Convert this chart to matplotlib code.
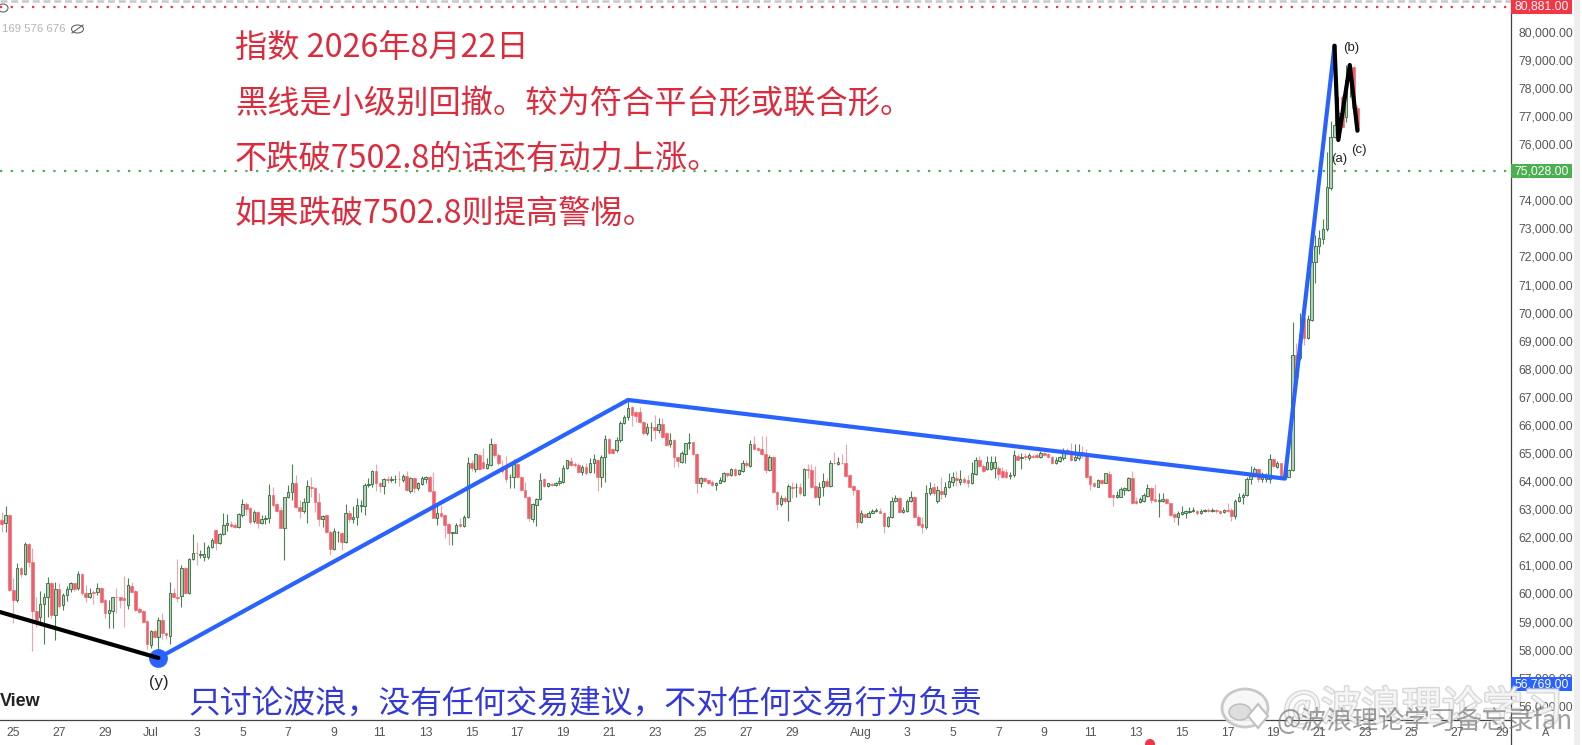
import numpy as np
import pandas as pd
import matplotlib
matplotlib.use("Agg")
import matplotlib.pyplot as plt
import matplotlib.dates as mdates
import matplotlib.patheffects as pe
from matplotlib.lines import Line2D
from matplotlib.patches import Ellipse, Rectangle, Polygon
from matplotlib.transforms import blended_transform_factory

plt.rcParams["font.family"] = ["Noto Sans CJK SC", "DejaVu Sans"]

W, H = 1582, 745

# 4h candles, first one on Jun 24 12:00
FIRST_BAR = "2026-06-24 12:00"

OPENS = [
    62620,62500,62800,60120,59770,60900,60710,61760,61130,59390,
    59150,59630,59890,60360,59230,60150,59590,59950,60150,60360,
    60180,60690,60000,59860,60060,60060,60180,59770,59290,59390,
    59890,59890,59830,59590,60270,60100,59440,59390,59030,58170,
    58680,58440,59060,58600,58490,60030,59890,59910,60900,60000,
    61220,61450,61370,61310,61290,61640,62260,61790,62120,62440,
    62470,62440,62380,62800,63190,63030,62590,62890,62520,62640,
    62680,63510,63190,62970,62340,63450,63630,63950,63070,62950,
    63270,63800,63750,63270,62640,62800,62200,61570,62180,62140,
    61850,62880,62640,62710,63120,63120,63850,63890,64370,63920,
    63830,64080,64040,64070,64080,64040,64180,63660,64100,63750,
    63900,64090,64140,63660,62680,62880,62800,62470,62140,62170,
    62470,62400,62710,64630,64420,64930,64690,64460,64580,65320,
    64930,64510,64540,64130,64130,64610,64160,63680,63450,62640,
    63150,63350,64060,63830,63900,63860,63920,63980,64450,64730,
    64610,64570,64340,64490,64340,64630,64750,64160,64870,65490,
    65130,65110,65460,66080,66270,66630,66470,66470,66120,65720,
    65910,65940,65820,66030,65700,65320,65460,64850,64690,64960,
    65340,65390,64960,63940,64120,64040,63980,63860,63940,64020,
    64280,64220,64420,64250,64370,64630,64540,65310,65170,65130,
    64960,64390,64870,63620,63180,63390,63300,63800,63780,63780,
    63500,64420,64400,63830,63420,63800,64020,63830,64660,64610,
    64660,64660,64220,63830,63680,62560,62830,62730,62880,62940,
    62950,62880,62400,62710,63300,63390,62910,62950,63300,63450,
    62710,62470,62380,63560,63780,63300,63660,63540,63780,63980,
    64120,63980,64060,64040,63920,64250,64750,64540,64420,64420,
    64450,64450,64370,64340,64180,64210,64890,64810,64890,64810,
    64890,64920,64850,64990,64960,64870,64660,64730,64810,65110,
    65080,64750,64810,65050,65010,64180,63920,63800,64040,63940,
    64250,63500,63420,63450,63680,63680,64100,63300,63270,63300,
    63480,63740,63350,63300,63300,63350,63210,62820,62710,62830,
    62880,62910,62950,62950,62880,62940,62970,62950,62970,62940,
    62900,62990,62970,62760,63300,63420,63500,64060,64180,64420,
    64060,64090,64060,64780,64490,64630,64220,64160,64390,68490,
    68370,69790,69080,69730,71810,72370,72610,72960,74420,76240,
    76260,77680,76970,78280,78750,77270,
]
CLOSES = [
    62480,62800,60120,59770,60900,60690,61760,61130,59390,59060,
    59630,59890,60360,59230,60150,59550,59950,60150,60390,60150,
    60690,60000,59860,60030,60030,60180,59710,59290,59410,59890,
    59860,59770,59770,60300,60060,59410,59350,59000,58200,58680,
    58460,59060,58600,58520,60030,59890,59850,60900,60000,61220,
    61450,61430,61410,61410,61640,61900,61790,62120,62440,62520,
    62400,62360,62830,63190,63000,62560,62910,62520,62640,62680,
    63510,63150,62950,62340,63450,63630,63950,63070,62950,63270,
    63830,63750,63270,62640,62760,62200,61570,62240,62200,61850,
    62880,62640,62740,63140,63140,63860,63890,64370,63920,63830,
    64080,64040,64090,64090,64070,64180,63680,64100,63750,63920,
    64100,64140,63660,62680,62880,62760,62440,62140,62190,62440,
    62400,62710,64630,64460,64970,64420,64460,64600,65320,64930,
    64630,64370,64060,64160,64610,64160,63680,63450,62670,63180,
    63350,64040,63830,63920,63860,63940,64020,64450,64750,64570,
    64570,64340,64490,64300,64630,64780,64160,64870,65490,64990,
    65010,65460,66080,66290,66590,66350,66320,66120,65720,65910,
    65940,65820,66030,65560,65290,65460,64850,64730,64990,65340,
    65380,64960,63920,64120,64020,63920,63860,63940,64040,64300,
    64220,64420,64220,64400,64630,64570,65310,65130,65110,64960,
    64390,64870,63620,63180,63390,63300,63830,63740,63800,63560,
    64420,64400,63780,63420,63800,64020,63830,64630,64630,64670,
    64630,64180,63800,63680,62560,62850,62730,62880,62950,62970,
    62880,62400,62710,63300,63390,62910,62970,63300,63420,62710,
    62440,62380,63560,63740,63560,63680,63540,63800,64020,64130,
    64040,64060,63980,63920,64280,64750,64540,64370,64690,64690,
    64690,64250,64160,64160,64220,64930,64770,64870,64870,64930,
    64850,64850,64990,64940,64850,64630,64750,64850,65080,65050,
    64750,64870,65050,64930,64130,63900,63830,64040,63940,64280,
    63450,63420,63500,63710,63740,64100,63230,63230,63350,63500,
    63740,63330,63300,63330,63350,63210,62790,62710,62850,62910,
    62940,62950,62970,62880,62950,62970,62940,62990,62920,62880,
    62970,62950,62760,63300,63420,63500,64060,64180,64420,64060,
    64220,64220,64780,64540,64660,64180,64130,64400,68490,67720,
    69240,69080,69760,71810,72370,72640,72960,74460,76240,76680,
    77090,76620,78280,78750,77270,76500,
]
HIGHS = [
    62910,63120,62820,60540,61100,60960,61850,61790,61610,59890,
    60100,60000,60600,60420,60420,60360,60000,60270,60420,60390,
    60810,60720,60300,60180,60120,60360,60220,59790,59770,59890,
    60180,59890,60620,60540,60420,60120,59510,59410,59060,58700,
    58720,59170,59320,58640,60420,60180,61220,61010,60960,61250,
    62110,61850,61550,61850,61730,61960,62280,62170,62850,62830,
    62590,62500,62850,63360,63270,63070,62970,62940,62800,62800,
    63900,63800,63230,63090,63450,63860,64610,64220,63330,63390,
    64040,64140,63800,63570,62800,62830,62260,62320,62240,62200,
    63190,62970,63120,63390,63330,63920,64100,64400,64610,63980,
    64100,64180,64180,64220,64370,64250,64370,64140,64140,63980,
    64180,64180,64180,64340,63150,63150,62830,62500,62200,62500,
    62680,62800,64870,64750,65010,64960,65170,64810,65520,65350,
    64990,64750,64890,64250,64780,64630,64180,63980,63470,63230,
    63390,64280,64100,63940,63940,63980,64160,64570,64770,64870,
    64690,64630,64570,64630,64810,64960,64780,64920,65640,65520,
    65170,65560,66150,66350,66860,66670,66510,66650,66150,66080,
    66120,66350,66230,66230,65760,65720,65490,64870,65080,65370,
    65720,65400,64990,64160,64160,64060,64040,63980,64160,64340,
    64300,64450,64450,64420,64750,64750,65460,65610,65230,65610,
    65610,64930,64890,63660,63500,63470,63900,63980,63920,63940,
    64450,64610,64610,64540,63980,64280,64100,64750,65050,64850,
    64960,65320,64250,63860,63710,62990,62880,62950,63000,63030,
    63030,62910,62760,63420,63500,63420,63090,63350,63660,63470,
    62790,62730,63860,63980,63920,63830,64130,63980,64280,64340,
    64370,64400,64130,64220,64690,64850,64890,64610,64890,64890,
    64890,64540,64490,64420,64340,65110,64960,65010,65010,64990,
    64960,65010,65080,65050,65010,64890,64850,64890,65170,65170,
    65370,65320,65320,65250,65130,64220,63980,64060,64060,64300,
    64370,63540,63660,63780,63800,64130,64370,63450,63450,63590,
    63900,63780,63900,63560,63560,63390,63230,62880,62950,63110,
    62970,63070,63070,62970,63000,63000,63030,63030,63020,62970,
    63020,63230,63030,63350,63590,63560,64160,64540,64510,64450,
    64340,64280,64960,64810,64730,64660,64250,64420,69670,68900,
    69970,69830,69910,72400,72760,72940,73350,75730,76830,79460,
    77680,77740,78810,78810,78780,77390,
]
LOWS = [
    62200,62200,60100,58960,59710,60600,60660,60960,57960,58820,
    59000,58200,59170,59120,58340,59470,59410,59740,60060,60100,
    60120,59950,59710,59830,59630,59950,59650,59120,58760,58760,
    59290,59470,58820,59440,60030,59390,59290,58960,58010,58050,
    58400,57750,58370,58370,58200,59830,59710,59510,59980,59980,
    61190,61010,61250,61160,61220,61610,61550,61760,62080,62240,
    62360,62320,62320,62740,62800,62470,62520,62320,62470,62470,
    62520,63090,62910,62320,61190,63390,63330,63050,62680,62850,
    62520,63420,62910,62400,62380,62140,61370,61550,61850,61550,
    61810,62560,62500,62440,62910,62800,63780,63800,63660,63630,
    63540,63920,63980,63950,63830,63980,63660,63590,63570,63690,
    63860,63920,63630,62680,62440,62740,61960,61730,61730,62140,
    62380,62380,62680,64370,64340,64400,64420,64420,64540,64870,
    64580,64300,63980,63740,63740,64100,63660,63390,62590,62560,
    62400,63330,63780,63780,63830,63830,63860,63940,64420,64540,
    64490,64300,64220,64220,64280,64280,63660,63780,63980,64960,
    64960,65050,65400,66030,66180,65960,66120,66080,65640,65640,
    65440,65490,65720,65520,65250,65230,64490,64490,64630,64630,
    65130,64930,63590,63780,63980,63900,63830,63680,63920,63980,
    64160,64180,64180,64220,64340,64490,64510,65110,65080,64930,
    64280,64370,63590,62970,63110,63230,62590,63390,63420,63500,
    63470,64100,63740,63390,63150,63470,63800,63800,64610,64570,
    64610,64160,63740,63500,62320,62520,62710,62710,62850,62900,
    62850,62160,62380,62670,63270,62880,62880,62910,63270,62670,
    62400,62160,62280,63500,63500,63230,63350,63420,63740,63830,
    63830,63860,63920,63780,63900,64220,64490,64340,64400,64400,
    64100,64040,64100,64100,64060,64160,64750,64440,64750,64750,
    64810,64810,64810,64890,64810,64610,64610,64690,64770,64930,
    64730,64730,64770,64810,64100,63680,63780,63780,63900,63920,
    63420,63110,63390,63420,63500,63660,63180,63180,63230,63270,
    63450,63230,63270,62730,63270,63180,62760,62560,62440,62790,
    62670,62880,62910,62790,62830,62900,62910,62910,62880,62830,
    62850,62910,62590,62640,63270,63180,63470,63900,64130,63980,
    63980,63980,63940,64490,64450,64160,64100,64130,64370,67720,
    68330,68840,69050,69710,71040,72080,72460,72900,74380,76200,
    76140,76560,76790,77680,77210,76440,
]

# hand drawn wave lines
BLACK_T1 = ["2026-06-24 10:00", "2026-07-01 08:00"]
BLACK_P1 = [59340, 57704]
BLUE_T = ["2026-07-01 08:00", "2026-07-21 20:00", "2026-08-19 12:00", "2026-08-21 16:00"]
BLUE_P = [57704, 66890, 64090, 79500]
BLACK_T2 = ["2026-08-21 16:00", "2026-08-21 20:00", "2026-08-22 08:00", "2026-08-22 16:00"]
BLACK_P2 = [79500, 76144, 78815, 76475]

PRICE_TICKS = list(range(56000, 80001, 1000))
TICK_DATES = [
    "2026-06-25", "2026-06-27", "2026-06-29", "2026-07-01", "2026-07-03", "2026-07-05",
    "2026-07-07", "2026-07-09", "2026-07-11", "2026-07-13", "2026-07-15", "2026-07-17",
    "2026-07-19", "2026-07-21", "2026-07-23", "2026-07-25", "2026-07-27", "2026-07-29",
    "2026-08-01", "2026-08-03", "2026-08-05", "2026-08-07", "2026-08-09", "2026-08-11",
    "2026-08-13", "2026-08-15", "2026-08-17", "2026-08-19", "2026-08-21", "2026-08-23",
    "2026-08-25", "2026-08-27", "2026-08-29",
]
TICK_LABELS = [
    "25", "27", "29", "Jul", "3", "5", "7", "9", "11", "13", "15", "17",
    "19", "21", "23", "25", "27", "29", "Aug", "3", "5", "7", "9", "11",
    "13", "15", "17", "19", "21", "23", "25", "27", "29",
]

TITLE_LINES = [
    "指数 2026年8月22日",
    "黑线是小级别回撤。较为符合平台形或联合形。",
    "不跌破7502.8的话还有动力上涨。",
    "如果跌破7502.8则提高警惕。",
]
NOTE = "只讨论波浪，没有任何交易建议，不对任何交易行为负责"
HIGH_LEVEL = 80881
CLOSE_LEVEL = 75028
LOW_LEVEL = 56769


def dnum(values):
    return mdates.date2num(pd.to_datetime(values))


def fx(px):
    return px / W


def fy(py):
    return 1 - py / H


def ftext(px, py, s, **kw):
    kw.setdefault("ha", "center")
    kw.setdefault("va", "center")
    return fig.text(fx(px), fy(py), s, **kw)


def fpatch(p):
    p.set_transform(fig.transFigure)
    fig.add_artist(p)


def ell(px, py, rx, ry, **kw):
    fpatch(Ellipse((fx(px), fy(py)), 2 * rx / W, 2 * ry / H, **kw))


fig = plt.figure(figsize=(W / 100, H / 100), dpi=100)
ax = fig.add_axes([0, 25 / H, 1511 / W, 720 / H])

o = np.array(OPENS)
c = np.array(CLOSES)
h = np.array(HIGHS)
l = np.array(LOWS)
times = dnum(pd.date_range(FIRST_BAR, periods=len(o), freq="4h"))
up = c >= o

# candles
ax.vlines(times[up], l[up], h[up], color="#4a8052", lw=0.8, zorder=2)
ax.vlines(times[~up], l[~up], h[~up], color="#f5a3aa", lw=0.8, zorder=2)
ax.bar(times[up], (c - o)[up], bottom=o[up], width=0.105,
       facecolor="#b4d0b6", edgecolor="#2f6e3a", lw=0.6, zorder=3)
ax.bar(times[~up], (o - c)[~up], bottom=c[~up], width=0.12,
       facecolor="#f05e69", edgecolor="#f05e69", lw=0.4, zorder=3)

# wave lines
ax.plot(dnum(BLACK_T1), BLACK_P1, color="black", lw=3.0, zorder=5, solid_capstyle="round")
ax.plot(dnum(BLUE_T), BLUE_P, color="#2962ff", lw=3.0, zorder=4, solid_capstyle="round")
ax.plot(dnum(BLUE_T[:1]), BLUE_P[:1], "o", color="#2962ff", ms=12.5, zorder=4)
ax.plot(dnum(BLACK_T2), BLACK_P2, color="black", lw=3.0, zorder=6, solid_capstyle="round")

# price lines
ax.axhline(HIGH_LEVEL, color="#f23645", lw=1.6, ls=(0, (1, 3.8)), zorder=1)
ax.axhline(CLOSE_LEVEL, color="#4caf50", lw=1.6, ls=(0, (1, 3.8)), zorder=1)
ax.axhline(81090, color="#c8c8c8", lw=1.8, ls=(0, (2.8, 1.5)), zorder=1)

x0 = dnum("2026-06-25")
ax.set_xlim(x0 - 0.5805, x0 + 65.37)
ax.set_ylim(55496, 81129)

ax.set_xticks(dnum(TICK_DATES))
ax.set_xticklabels(TICK_LABELS, family=["Liberation Sans"])
ax.set_yticks(PRICE_TICKS)
ax.set_yticklabels([f"{v:,.2f}" for v in PRICE_TICKS], family=["Liberation Sans"])
ax.yaxis.tick_right()
ax.tick_params(axis="x", length=0, pad=5, labelsize=8.8, labelcolor="#555555")
ax.tick_params(axis="y", length=0, pad=5.5, labelsize=8.7, labelcolor="#555555")
for side in ["top", "left"]:
    ax.spines[side].set_visible(False)
for side in ["right", "bottom"]:
    ax.spines[side].set_color("#444444")
    ax.spines[side].set_linewidth(0.9)
fig.add_artist(Line2D([1511 / W, 1511 / W], [0, 25 / H], color="#444444", lw=0.9))

# last price badges
trans = blended_transform_factory(ax.transAxes, ax.transData)
for value, colour in [(HIGH_LEVEL, "#f23645"), (CLOSE_LEVEL, "#4caf50"), (LOW_LEVEL, "#2962ff")]:
    ax.add_patch(Rectangle((1.0, value - 250), 61 / 1511, 500, transform=trans,
                           facecolor=colour, edgecolor="none", clip_on=False, zorder=8))
    ax.text(1 + 30.5 / 1511, value, f"{value:,.2f}", transform=trans, ha="center", va="center",
            color="white", fontsize=8.7, family=["Liberation Sans"], clip_on=False, zorder=9)

# right grey strip
fpatch(Rectangle((1574 / W, 0), 6 / W, 1, facecolor="#eeeeee", edgecolor="none", zorder=0))

# annotation text
for text, y in zip(TITLE_LINES, [48, 104, 159, 214]):
    ftext(235, y, text, ha="left", fontsize=23.2, color="#db2b3c", zorder=10)
ftext(188, 704, NOTE, ha="left", fontsize=22.9, color="#3338d8", zorder=10)

LABEL_FONT = ["Liberation Sans"]
ftext(1350.7, 47.5, "(b)", fontsize=9.5, family=LABEL_FONT, color="#222222", zorder=10)
ftext(1339, 159, "(a)", fontsize=9.5, family=LABEL_FONT, color="#222222", zorder=10)
ftext(1358.7, 150, "(c)", fontsize=9.5, family=LABEL_FONT, color="#222222", zorder=10)
ftext(159, 682, "(y)", fontsize=12, family=LABEL_FONT, color="#222222", zorder=10)
ftext(1546, 733, "A", fontsize=8, family=LABEL_FONT, color="#555555", zorder=10)

# header leftovers and logo
ftext(2, 29, "169 576 676", ha="left", fontsize=8.2, family=LABEL_FONT, color="#b5b5b5", zorder=10)
ell(77.5, 29, 6, 4, facecolor="none", edgecolor="#666666", lw=0.8, zorder=10)
fig.add_artist(Line2D([fx(72), fx(83)], [fy(33), fy(25)], color="#666666", lw=0.8, zorder=10))
ell(3, 8, 5, 4, facecolor="none", edgecolor="#666666", lw=0.8, zorder=10)
ftext(0, 701, "View", ha="left", fontsize=13, weight="bold", family=LABEL_FONT, color="#222222", zorder=10)

# red marker cut by the bottom edge
ell(1150, 744, 5, 5, facecolor="#f23645", edgecolor="none", zorder=10)

# weibo watermark
halo = [pe.withStroke(linewidth=2.0, foreground="#c8c8c8", alpha=0.7)]
ell(1245, 708, 23, 19, facecolor="#f7f7f7", edgecolor="#c4c4c4", lw=2.0, zorder=11, alpha=0.9)
ell(1240, 712, 11, 8, facecolor="#dddddd", edgecolor="#bbbbbb", lw=1.0, zorder=11)
fpatch(Polygon([(fx(1258), fy(704)), (fx(1268), fy(716)), (fx(1258), fy(728)), (fx(1248), fy(716))],
               closed=True, facecolor="#ffffff", edgecolor="#c0c0c0", lw=1.5, zorder=11))
txt = ftext(1283, 708, "@波浪理论学习", ha="left", fontsize=29, color="#fafafa", alpha=0.85, zorder=11)
txt.set_path_effects(halo)
ftext(1277, 721, "@波浪理论学习备忘录fan", ha="left", fontsize=18.6, color="#777777", alpha=0.7, zorder=12)

fig.savefig("out.png", dpi=100)
